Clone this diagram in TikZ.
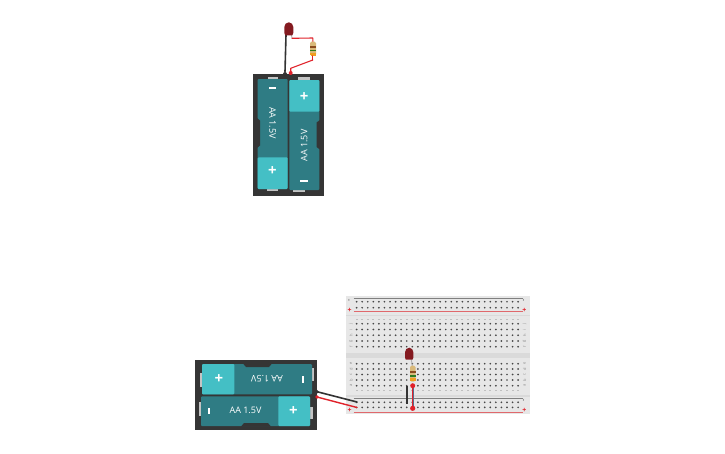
\documentclass[tikz,border=0pt]{standalone}
\usepackage{fontspec}
\setmainfont{Open Sans}
\definecolor{teal}{HTML}{2F7C84}
\definecolor{cyanb}{HTML}{44BFC5}
\definecolor{hold}{HTML}{353535}
\definecolor{bb}{HTML}{E7E7E7}
\definecolor{bbb}{HTML}{DADADA}
\definecolor{led}{HTML}{841A20}
\definecolor{wred}{HTML}{E0222A}
\definecolor{wblk}{HTML}{333333}
\definecolor{railr}{HTML}{E0686C}
\definecolor{tab}{HTML}{C4C4C4}
\definecolor{rbody}{HTML}{D9B97A}
\definecolor{rorange}{HTML}{F0A020}
\definecolor{rgreen}{HTML}{2E7D1E}
\definecolor{rbrown}{HTML}{8A4B1E}
\definecolor{hl}{HTML}{5A6A8A}
\tikzset{
 wirer/.style={draw=wred,line width=1.4pt,line cap=round,line join=round},
 wirek/.style={draw=wblk,line width=1.6pt,line cap=round,line join=round},
 lead/.style={draw=gray!60,line width=.9pt},
 batlabel/.style={white,font=\fontsize{9}{9}\selectfont,inner sep=0pt},
 sign/.style={white,font=\fontsize{15}{15}\selectfont\bfseries,inner sep=0pt},
 hole/.style={fill=black!72,draw=none},
 bbtxt/.style={black!45,font=\fontsize{4}{4}\selectfont,inner sep=0pt},
 railtxt/.style={font=\fontsize{7}{7}\selectfont\bfseries,inner sep=0pt}
}
\begin{document}
\begin{tikzpicture}[x=1pt,y=-1pt]
\useasboundingbox[fill=white] (0,0) rectangle (725,453);
% ---- top schematic: LED and resistor
\coordinate (ledK) at (286,35);
\coordinate (ledA) at (291.5,35);
\coordinate (rT) at (312.8,38);
\coordinate (rB) at (312.8,60);
\coordinate (pk) at (285,71.5);
\coordinate (pr) at (290.7,71.5);
\draw[wirek] (ledK) -- (pk);
\draw[lead] (ledA) -- (292,38.3);
\draw[wirer,line width=1.1pt] (292,38.3) -- (rT) -- (312.8,43);
\draw[wirer,line width=1.1pt] (rB) -- (290.7,68.3) -- (pr);
\path[fill=led] (284.3,27) arc[start angle=180,end angle=360,x radius=4.5,y radius=4.7] -- (293.3,33) -- (292.3,35.3) -- (285.3,35.3) -- (284.3,33) -- cycle;
% resistor
\path[fill=rbody,rounded corners=1.5pt] (310,41.7) rectangle (316,55.7);
\fill[rbrown] (310,46) rectangle (316,47.5);
\fill[rgreen] (310,49.7) rectangle (316,51.2);
\fill[rorange] (310,52.5) rectangle (316,55);
\fill[rorange] (310.5,55) rectangle (315.5,56);
\draw[wirer,line width=1.1pt] (312.8,56) -- (rB);
% vertical battery holder
\fill[hold] (253.3,74) rectangle (323.7,196);
\fill[tab] (268,76.8) rectangle (278,79);
\fill[tab] (298,77) rectangle (310,80);
\fill[tab] (267,189) rectangle (278,191.2);
\fill[tab] (293,190) rectangle (305,192.2);
\fill[wblk] (285,74) circle (2);
\fill[wred] (290.7,73) circle (2);
% left cell
\path[fill=teal,rounded corners=1pt] (257.7,79) rectangle (287.7,189);
\path[fill=cyanb,rounded corners=1pt] (257.7,157.3) rectangle (287.7,189);
\fill[hold] (257,118) -- (260,120.5) -- (260,145.5) -- (257,148) -- cycle;
\node[batlabel,rotate=-90] (cellL) at (272.5,123) {AA 1.5V};
\node[sign] (pL) at (272.5,171.5) {+};
\fill[white] (269,87) rectangle (276,88.7);
% right cell
\path[fill=teal,rounded corners=1pt] (289.3,80) rectangle (319.3,190);
\path[fill=cyanb,rounded corners=1pt] (289.3,80) rectangle (319.3,111.7);
\fill[hold] (320,120) -- (316.5,122.5) -- (316.5,147) -- (320,149.5) -- cycle;
\node[batlabel,rotate=90] (cellR) at (304.2,145.5) {AA 1.5V};
\node[sign] (pR) at (304.2,97) {+};
\fill[white] (300,180) rectangle (307.7,181.7);
% horizontal battery holder
\fill[hold] (195,360) rectangle (317.3,430);
\fill[tab] (199.5,373) rectangle (202,387);
\fill[tab] (312,368) rectangle (314,381);
\fill[tab] (198.5,402) rectangle (201,416);
\fill[tab] (310,407) rectangle (312.5,419);
% upper cell
\path[fill=teal,rounded corners=1pt] (202,364) rectangle (312,394.3);
\path[fill=cyanb,rounded corners=1pt] (202,364) rectangle (234.3,394.3);
\fill[hold] (243,363.5) -- (246,367) -- (269,367) -- (272,363.5) -- cycle;
\node[batlabel,rotate=180] (cellU) at (267,379) {AA 1.5V};
\node[sign] (pU) at (219,379.3) {+};
\fill[white] (302,375.7) rectangle (303.7,382.5);
% lower cell
\path[fill=teal,rounded corners=1pt] (201,396.3) rectangle (310,426);
\path[fill=cyanb,rounded corners=1pt] (278.3,396.3) rectangle (310,426);
\fill[hold] (241,426.5) -- (244,423) -- (268,423) -- (271,426.5) -- cycle;
\node[batlabel] (cellD) at (245.5,410.7) {AA 1.5V};
\node[sign] (pD) at (293.5,411) {+};
\fill[white] (208.2,407.7) rectangle (209.9,414.4);
% breadboard
\fill[bb] (346,296) rectangle (530,414);
\fill[bbb] (346,353.3) rectangle (530,358.3);
\fill[bbb] (346,315) rectangle (530,316);
\fill[bbb] (346,395) rectangle (530,396.5);
\draw[black!50,line width=.9pt] (353.5,298) -- (522.5,298);
\draw[black!50,line width=.9pt] (353.5,398.3) -- (522.5,398.3);
\draw[railr,line width=.9pt] (353.5,311.5) -- (522.5,311.5);
\draw[railr,line width=.9pt] (353.5,412.2) -- (522.5,412.2);
\foreach \y in {301.7,307.7,402.3,407.4,323.7,329.5,335.2,341,346.7,363.7,369,374.5,380,385.7}
  \foreach \i in {0,...,29}
    \fill[hole] ({356.6+5.57*\i},\y) circle (.95);
\foreach \i in {0,...,29}{
  \fill[black!25] ({356.6+5.57*\i-1},318.5) rectangle +(2,1);
  \fill[black!25] ({356.6+5.57*\i-1},390.3) rectangle +(2,1);
}
\foreach \y/\t in {323.7/j,329.5/i,335.2/h,341/g,346.7/f,363.7/e,369/d,374.5/c,380/b,385.7/a}{
  \node[bbtxt,rotate=90] at (351,\y) {\t};
  \node[bbtxt,rotate=90] at (524.5,\y) {\t};
}
\node[railtxt,black!50,rotate=90] (m1) at (349.7,300.5) {-};
\node[railtxt,wred] (p1) at (349.7,310.3) {+};
\node[railtxt,black!50,rotate=90] (m2) at (349.7,400) {-};
\node[railtxt,wred] (p2) at (349.7,410) {+};
\node[railtxt,black!50,rotate=90] (m3) at (524.3,300) {-};
\node[railtxt,wred] (p3) at (524.3,310.5) {+};
\node[railtxt,black!50,rotate=90] (m4) at (524.3,400) {-};
\node[railtxt,wred] (p4) at (524.3,410) {+};
% breadboard wires
\coordinate (hk) at (317,391.7);
\coordinate (hr) at (317,397);
\coordinate (tk) at (357,402);
\coordinate (tr) at (357,407.5);
\draw[wirek] (hk) -- (tk);
\draw[wirer] (hr) -- (tr);
\fill[wblk] (hk) circle (1.8);
\fill[wred] (hr) circle (1.8);
\coordinate (jk1) at (407,385.7);
\coordinate (jk2) at (407,404);
\draw[wirek,line width=1.9pt,line cap=butt] (jk1) -- (jk2);
\coordinate (jr1) at (412.7,385.7);
\coordinate (jr2) at (412.7,408.3);
\draw[wirer,line width=1.7pt] (jr1) -- (jr2);
\draw[hl,line width=.4pt] (jr1) -- (jr2);
\fill[wred] (jr1) circle (2.5);
\fill[wred] (jr2) circle (2.6);
% breadboard resistor + LED
\draw[lead] (411,358) -- (412.5,367);
\path[fill=rbody,rounded corners=1.5pt] (410,365.7) rectangle (415.5,381.7);
\fill[rbrown] (410,371) rectangle (415.5,372.5);
\fill[rgreen] (410,375.2) rectangle (415.5,376.7);
\fill[rorange] (410,378) rectangle (415.5,380.5);
\path[fill=led] (405,352.4) arc[start angle=180,end angle=360,x radius=4.2,y radius=4.7] -- (413.4,357.5) -- (412.6,359.5) -- (405.7,359.5) -- (405,357.5) -- cycle;
\end{tikzpicture}
\end{document}
